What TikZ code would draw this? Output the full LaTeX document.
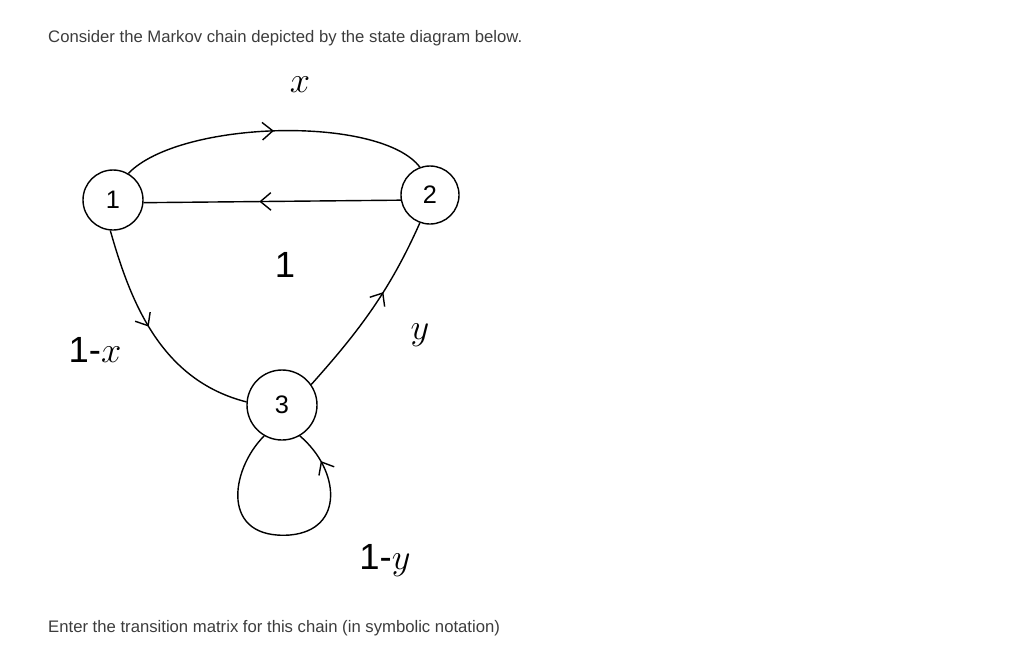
\documentclass[tikz,border=0pt]{standalone}
\usepackage{fontspec}
\setmainfont{Liberation Sans}
\usetikzlibrary{decorations.markings,arrows.meta}
\definecolor{txt}{RGB}{60,60,60}
\begin{document}
\begin{tikzpicture}[x=0.02cm,y=-0.02cm,
  st/.style={draw,circle,thick,minimum size=60*0.02cm,inner sep=0pt,font=\Large},
  ed/.style={thick,postaction={decorate},decoration={markings,mark=at position #1 with {\arrow{Straight Barb[length=6pt,width=10pt]}}}},
  lab/.style={font=\huge},
  para/.style={anchor=west,text=txt,font=\fontsize{9.5pt}{11pt}\selectfont}]
\useasboundingbox (0,0) rectangle (1024,646);
\node[para] (t1) at (42,38) {Consider the Markov chain depicted by the state diagram below.};
\node[para] (t2) at (42,628) {Enter the transition matrix for this chain (in symbolic notation)};
\node[st] (n1) at (113,200) {1};
\node[st,minimum size=58*0.02cm] (n2) at (430,195) {2};
\node[st,minimum size=70*0.02cm] (n3) at (282,405) {3};
\draw[ed=0.5] (n1.60) .. controls (180,120) and (380,115) .. (n2.110);
\draw[ed=0.55] (n2.190) -- (n1.-5);
\draw[ed=0.45] (n1.-95) .. controls (130,300) and (160,380) .. (n3.175);
\draw[ed=0.6] (n3.35) .. controls (360,330) and (390,290) .. (n2.-110);
\draw[ed=0.88] (n3.-120) .. controls (230,470) and (220,540) .. (290,535) .. controls (345,530) and (340,470) .. (n3.-60);
\node[lab] (lx) at (300,85) {$x$};
\node[lab] (l1) at (285,265) {1};
\node[lab] (l1x) at (95,350) {1-$x$};
\node[lab] (ly) at (420,335) {$y$};
\node[lab] (l1y) at (385,560) {1-$y$};
\end{tikzpicture}
\end{document}
